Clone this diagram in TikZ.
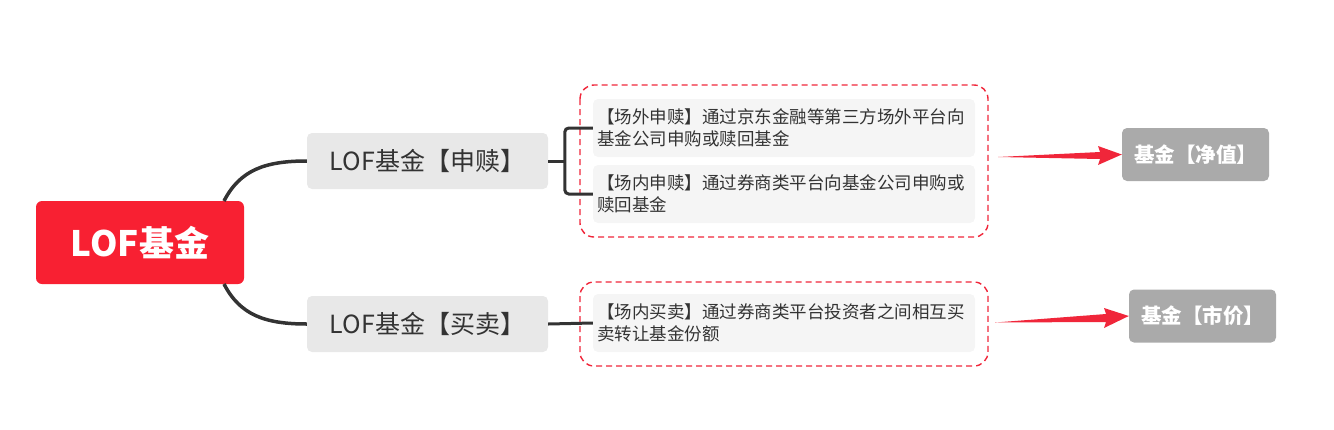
\documentclass[tikz,border=0pt]{standalone}
\usepackage{fontspec}
\setmainfont{Noto Sans CJK SC}
\definecolor{rootred}{HTML}{F82032}
\definecolor{dark}{HTML}{333333}
\definecolor{brgray}{HTML}{E8E8E8}
\definecolor{leafgray}{HTML}{F5F5F5}
\definecolor{resgray}{HTML}{AAAAAA}
\definecolor{dashred}{HTML}{F0263A}
\begin{document}
\begin{tikzpicture}[x=1pt,y=-1pt,
  rootbox/.style={fill=rootred,rounded corners=6pt,text=white,font=\fontsize{35}{40}\selectfont\bfseries,minimum width=208pt,minimum height=83pt,inner sep=0},
  branchbox/.style={fill=brgray,rounded corners=5pt,text=dark,font=\fontsize{25}{30}\selectfont,minimum width=241pt,minimum height=56pt,inner sep=0},
  leafbox/.style={fill=leafgray,rounded corners=5pt,text=dark,font=\fontsize{17.5}{22}\selectfont,minimum width=382pt,minimum height=58pt,text width=374pt,align=left,inner sep=4pt},
  resbox/.style={fill=resgray,rounded corners=5pt,text=white,font=\fontsize{20.5}{24}\selectfont\bfseries,minimum width=147pt,minimum height=53pt,inner sep=0},
  dashbox/.style={draw=dashred,line width=1.4pt,dash pattern=on 6pt off 4pt,rounded corners=14pt},
  conn/.style={draw=dark,line width=3.5pt},
  redarrow/.style={fill=dashred}]
\useasboundingbox (0,0) rectangle (1334,429);
\node[rootbox] (root) at (140,242.5) {LOF基金};
\node[branchbox] (b1) at (427.5,161) {LOF基金【申赎】};
\node[branchbox] (b2) at (427.5,324) {LOF基金【买卖】};
\draw[dashbox] (580,85) rectangle (988,237);
\draw[dashbox] (580,282) rectangle (988,366);
\node[leafbox] (l1) at (784,128) {【场外申赎】通过京东金融等第三方场外平台向\\基金公司申购或赎回基金};
\node[leafbox] (l2) at (784,194) {【场内申赎】通过券商类平台向基金公司申购或\\赎回基金};
\node[leafbox] (l3) at (784,323) {【场内买卖】通过券商类平台投资者之间相互买\\卖转让基金份额};
\node[resbox] (r1) at (1195.5,154.5) {基金【净值】};
\node[resbox] (r2) at (1202.5,316) {基金【市价】};
\draw[conn] (224,201) .. controls (240,170) and (265,161) .. (b1.west);
\draw[conn] (224,284) .. controls (240,315) and (265,324) .. (b2.west);
\coordinate (k1) at (565,161);
\draw[conn,line width=3pt] (b1.east) -- (k1);
\draw[conn,line width=3pt,rounded corners=4pt] (l1.west) -- ++(-28,0) |- (l2.west);
\draw[conn,line width=3pt] (b2.east) -- (l3.west);
\fill[redarrow] (998,157) -- (1100,152) -- (1098,146) -- (r1.west) -- (1098,165) -- (1100,159) -- cycle;
\fill[redarrow] (995,322.5) -- (1106,314) -- (1104,308) -- (r2.west) -- (1104,328) -- (1106,322) -- cycle;
\end{tikzpicture}
\end{document}
